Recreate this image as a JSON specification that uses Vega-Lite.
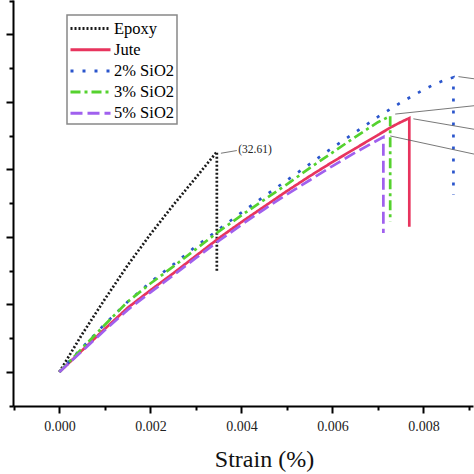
{
  "$schema": "https://vega.github.io/schema/vega-lite/v6.json",
  "width": 460,
  "height": 406,
  "autosize": {"type": "none"},
  "padding": {"left": 13, "top": 0, "right": 1, "bottom": 68},
  "background": "white",
  "config": {
    "view": {"stroke": null},
    "font": "Liberation Serif",
    "axis": {
      "domainColor": "black",
      "domainWidth": 2,
      "tickColor": "black",
      "tickWidth": 2,
      "grid": false,
      "labelFont": "Liberation Serif",
      "labelColor": "#222",
      "titleFont": "Liberation Serif",
      "titleColor": "#111",
      "titleFontWeight": "normal"
    },
    "legend": {
      "orient": "none",
      "legendX": 54,
      "legendY": 15,
      "strokeColor": "#888",
      "strokeWidth": 1.5,
      "padding": 2,
      "symbolType": "M-1,0H3",
      "symbolSize": 400,
      "symbolStrokeWidth": 3,
      "labelFont": "Liberation Serif",
      "labelFontSize": 16.5,
      "labelColor": "black",
      "labelOffset": 22,
      "rowPadding": 1.2
    }
  },
  "datasets": {
    "curves": [
      {"series": "Epoxy", "i": 0, "strain": 0, "stress": 0},
      {"series": "Epoxy", "i": 1, "strain": 0.0005, "stress": 5.6},
      {"series": "Epoxy", "i": 2, "strain": 0.001, "stress": 10.8},
      {"series": "Epoxy", "i": 3, "strain": 0.0015, "stress": 15.8},
      {"series": "Epoxy", "i": 4, "strain": 0.002, "stress": 20.4},
      {"series": "Epoxy", "i": 5, "strain": 0.0025, "stress": 24.7},
      {"series": "Epoxy", "i": 6, "strain": 0.003, "stress": 28.8},
      {"series": "Epoxy", "i": 7, "strain": 0.00346, "stress": 32.61},
      {"series": "Epoxy", "i": 8, "strain": 0.00346, "stress": 14.7},
      {"series": "Jute", "i": 0, "strain": 0, "stress": 0},
      {"series": "Jute", "i": 1, "strain": 0.0005, "stress": 3.2},
      {"series": "Jute", "i": 2, "strain": 0.001, "stress": 6.4},
      {"series": "Jute", "i": 3, "strain": 0.0015, "stress": 9.5},
      {"series": "Jute", "i": 4, "strain": 0.002, "stress": 12.1},
      {"series": "Jute", "i": 5, "strain": 0.0025, "stress": 14.6},
      {"series": "Jute", "i": 6, "strain": 0.003, "stress": 17.2},
      {"series": "Jute", "i": 7, "strain": 0.0035, "stress": 19.8},
      {"series": "Jute", "i": 8, "strain": 0.004, "stress": 22.2},
      {"series": "Jute", "i": 9, "strain": 0.0045, "stress": 24.5},
      {"series": "Jute", "i": 10, "strain": 0.005, "stress": 26.8},
      {"series": "Jute", "i": 11, "strain": 0.0055, "stress": 29.0},
      {"series": "Jute", "i": 12, "strain": 0.006, "stress": 31.1},
      {"series": "Jute", "i": 13, "strain": 0.0065, "stress": 33.1},
      {"series": "Jute", "i": 14, "strain": 0.007, "stress": 35.1},
      {"series": "Jute", "i": 15, "strain": 0.0073, "stress": 36.3},
      {"series": "Jute", "i": 16, "strain": 0.0075, "stress": 37.0},
      {"series": "Jute", "i": 17, "strain": 0.00769, "stress": 37.6},
      {"series": "Jute", "i": 18, "strain": 0.00769, "stress": 21.5},
      {"series": "2% SiO2", "i": 0, "strain": 0, "stress": 0},
      {"series": "2% SiO2", "i": 1, "strain": 0.0005, "stress": 3.6},
      {"series": "2% SiO2", "i": 2, "strain": 0.001, "stress": 7.1},
      {"series": "2% SiO2", "i": 3, "strain": 0.0015, "stress": 10.4},
      {"series": "2% SiO2", "i": 4, "strain": 0.002, "stress": 13.3},
      {"series": "2% SiO2", "i": 5, "strain": 0.0025, "stress": 15.9},
      {"series": "2% SiO2", "i": 6, "strain": 0.003, "stress": 18.6},
      {"series": "2% SiO2", "i": 7, "strain": 0.0035, "stress": 21.1},
      {"series": "2% SiO2", "i": 8, "strain": 0.004, "stress": 23.6},
      {"series": "2% SiO2", "i": 9, "strain": 0.0045, "stress": 26.0},
      {"series": "2% SiO2", "i": 10, "strain": 0.005, "stress": 28.4},
      {"series": "2% SiO2", "i": 11, "strain": 0.0055, "stress": 30.8},
      {"series": "2% SiO2", "i": 12, "strain": 0.006, "stress": 33.2},
      {"series": "2% SiO2", "i": 13, "strain": 0.0065, "stress": 35.5},
      {"series": "2% SiO2", "i": 14, "strain": 0.007, "stress": 37.8},
      {"series": "2% SiO2", "i": 15, "strain": 0.0075, "stress": 39.9},
      {"series": "2% SiO2", "i": 16, "strain": 0.008, "stress": 41.8},
      {"series": "2% SiO2", "i": 17, "strain": 0.0083, "stress": 42.8},
      {"series": "2% SiO2", "i": 18, "strain": 0.0085, "stress": 43.3},
      {"series": "2% SiO2", "i": 19, "strain": 0.00866, "stress": 43.65},
      {"series": "2% SiO2", "i": 20, "strain": 0.00866, "stress": 26.2},
      {"series": "3% SiO2", "i": 0, "strain": 0, "stress": 0},
      {"series": "3% SiO2", "i": 1, "strain": 0.0005, "stress": 3.5},
      {"series": "3% SiO2", "i": 2, "strain": 0.001, "stress": 7.0},
      {"series": "3% SiO2", "i": 3, "strain": 0.0015, "stress": 10.4},
      {"series": "3% SiO2", "i": 4, "strain": 0.002, "stress": 13.1},
      {"series": "3% SiO2", "i": 5, "strain": 0.0025, "stress": 15.6},
      {"series": "3% SiO2", "i": 6, "strain": 0.003, "stress": 18.2},
      {"series": "3% SiO2", "i": 7, "strain": 0.0035, "stress": 20.8},
      {"series": "3% SiO2", "i": 8, "strain": 0.004, "stress": 23.2},
      {"series": "3% SiO2", "i": 9, "strain": 0.0045, "stress": 25.5},
      {"series": "3% SiO2", "i": 10, "strain": 0.005, "stress": 27.8},
      {"series": "3% SiO2", "i": 11, "strain": 0.0055, "stress": 30.2},
      {"series": "3% SiO2", "i": 12, "strain": 0.006, "stress": 32.5},
      {"series": "3% SiO2", "i": 13, "strain": 0.0065, "stress": 34.8},
      {"series": "3% SiO2", "i": 14, "strain": 0.007, "stress": 37.0},
      {"series": "3% SiO2", "i": 15, "strain": 0.00727, "stress": 37.9},
      {"series": "3% SiO2", "i": 16, "strain": 0.00727, "stress": 22.3},
      {"series": "5% SiO2", "i": 0, "strain": 0, "stress": 0},
      {"series": "5% SiO2", "i": 1, "strain": 0.0005, "stress": 3.1},
      {"series": "5% SiO2", "i": 2, "strain": 0.001, "stress": 6.2},
      {"series": "5% SiO2", "i": 3, "strain": 0.0015, "stress": 9.2},
      {"series": "5% SiO2", "i": 4, "strain": 0.002, "stress": 11.8},
      {"series": "5% SiO2", "i": 5, "strain": 0.0025, "stress": 14.3},
      {"series": "5% SiO2", "i": 6, "strain": 0.003, "stress": 16.9},
      {"series": "5% SiO2", "i": 7, "strain": 0.0035, "stress": 19.4},
      {"series": "5% SiO2", "i": 8, "strain": 0.004, "stress": 21.8},
      {"series": "5% SiO2", "i": 9, "strain": 0.0045, "stress": 24.1},
      {"series": "5% SiO2", "i": 10, "strain": 0.005, "stress": 26.3},
      {"series": "5% SiO2", "i": 11, "strain": 0.0055, "stress": 28.4},
      {"series": "5% SiO2", "i": 12, "strain": 0.006, "stress": 30.5},
      {"series": "5% SiO2", "i": 13, "strain": 0.0065, "stress": 32.5},
      {"series": "5% SiO2", "i": 14, "strain": 0.00712, "stress": 34.8},
      {"series": "5% SiO2", "i": 15, "strain": 0.00712, "stress": 20.6}
    ],
    "callouts": [
      {"from_x": 0.00355, "from_y": 32.4, "to_x": 0.0039, "to_y": 32.8},
      {"from_x": 0.00877, "from_y": 43.75, "to_x": 0.0092, "to_y": 43.35},
      {"from_x": 0.00738, "from_y": 38.2, "to_x": 0.0092, "to_y": 39.5},
      {"from_x": 0.00778, "from_y": 37.5, "to_x": 0.0092, "to_y": 35.85},
      {"from_x": 0.00727, "from_y": 34.96, "to_x": 0.0092, "to_y": 32.15}
    ],
    "peak": [
      {"strain": 0.00393, "stress": 32.9, "label": "(32.61)"}
    ]
  },
  "resolve": {"axis": {"x": "independent", "y": "independent"}},
  "layer": [
    {
      "data": {"name": "curves"},
      "mark": {"type": "line", "strokeCap": "butt", "strokeWidth": 2.7},
      "encoding": {
        "x": {
          "field": "strain",
          "type": "quantitative",
          "scale": {"domain": [-0.00102, 0.00909], "nice": false, "zero": false},
          "axis": {
            "orient": "bottom",
            "title": "Strain (%)",
            "titleFontSize": 24,
            "titleX": 251,
            "titleY": 53,
            "titleAlign": "center",
            "titleBaseline": "middle",
            "values": [0, 0.002, 0.004, 0.006, 0.008],
            "format": ".3f",
            "labelFontSize": 14,
            "labelPadding": 6,
            "tickSize": 7
          }
        },
        "y": {
          "field": "stress",
          "type": "quantitative",
          "scale": {"domain": [-5.04, 55.1], "nice": false, "zero": false},
          "axis": {
            "orient": "left",
            "title": null,
            "labels": false,
            "values": [0, 10, 20, 30, 40, 50],
            "tickSize": 7
          }
        },
        "order": {"field": "i", "type": "quantitative"},
        "color": {
          "field": "series",
          "type": "nominal",
          "title": null,
          "scale": {
            "domain": ["Epoxy", "Jute", "2% SiO2", "3% SiO2", "5% SiO2"],
            "range": ["#1a1a1a", "#e8345e", "#2a55cc", "#55d22e", "#a060ee"]
          }
        },
        "strokeDash": {
          "field": "series",
          "type": "nominal",
          "title": null,
          "scale": {
            "domain": ["Epoxy", "Jute", "2% SiO2", "3% SiO2", "5% SiO2"],
            "range": [[2, 2], [1, 0], [3, 9], [10, 4, 3, 4], [12, 5]]
          }
        }
      }
    },
    {
      "data": {"name": "callouts"},
      "mark": {"type": "rule", "color": "#555", "strokeWidth": 0.8},
      "encoding": {
        "x": {
          "field": "from_x",
          "type": "quantitative",
          "scale": {"domain": [-0.00102, 0.00909], "nice": false, "zero": false},
          "axis": {"orient": "bottom", "title": null, "labels": false, "domain": false, "values": [-0.001, 0.001, 0.003, 0.005, 0.007, 0.009], "tickSize": 4}
        },
        "y": {
          "field": "from_y",
          "type": "quantitative",
          "scale": {"domain": [-5.04, 55.1], "nice": false, "zero": false},
          "axis": {"orient": "left", "title": null, "labels": false, "domain": false, "values": [-5, 5, 15, 25, 35, 45, 55], "tickSize": 4}
        },
        "x2": {"field": "to_x"},
        "y2": {"field": "to_y"}
      }
    },
    {
      "data": {"name": "peak"},
      "mark": {"type": "text", "align": "left", "baseline": "middle", "font": "Liberation Serif", "fontSize": 11.5, "color": "#222"},
      "encoding": {
        "x": {"field": "strain", "type": "quantitative", "axis": null, "scale": {"domain": [-0.00102, 0.00909], "nice": false, "zero": false}},
        "y": {"field": "stress", "type": "quantitative", "axis": null, "scale": {"domain": [-5.04, 55.1], "nice": false, "zero": false}},
        "text": {"field": "label"}
      }
    }
  ]
}
